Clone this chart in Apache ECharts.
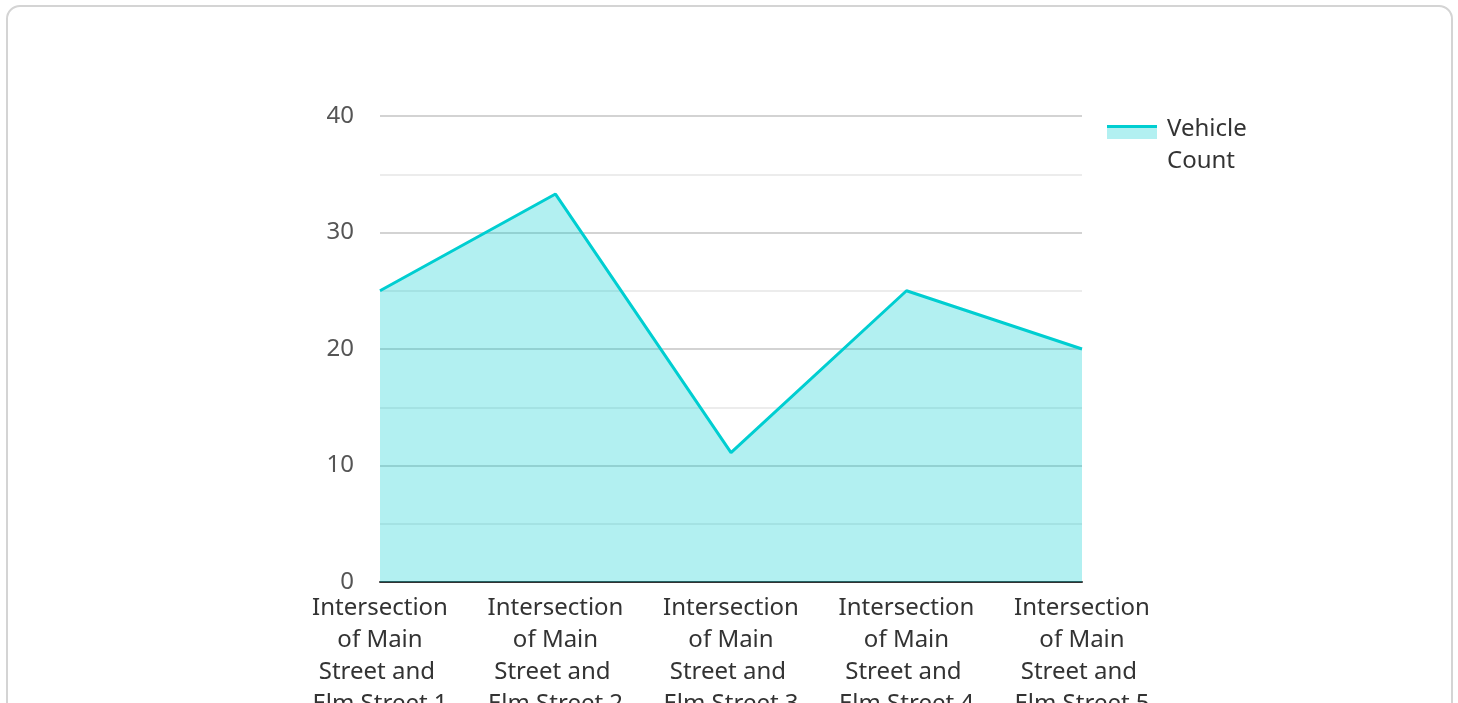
<!DOCTYPE html>
<html>
<head>
<meta charset="utf-8">
<script src="https://cdn.jsdelivr.net/npm/echarts@6/dist/echarts.min.js"></script>
<style>
    html, body { margin: 0; padding: 0; background: #fff; overflow: hidden; }
    .card {
        position: absolute; left: 6px; top: 5px; width: 1447px; height: 800px;
        border: 2px solid #d4d4d4; border-radius: 14px; box-sizing: border-box;
    }
    #chart { position: absolute; left: 0; top: 0; width: 1458px; height: 800px; }
</style>
</head>
<body>
<div class="card"></div>
<div id="chart"></div>
<script>
    var categories = [
        'Intersection of Main Street and Elm Street 1',
        'Intersection of Main Street and Elm Street 2',
        'Intersection of Main Street and Elm Street 3',
        'Intersection of Main Street and Elm Street 4',
        'Intersection of Main Street and Elm Street 5'
    ]
    var vehicleCount = [25, 33.3, 11.1, 25, 20]
    var seriesName = 'Vehicle Count'

    var lineColor = '#00CED1'
    var fillColor = '#b2f0f1'
    var font = '"Noto Sans", "Open Sans", sans-serif'
    var chart = echarts.init(document.getElementById('chart'), null, { renderer: 'canvas' })
    chart.setOption({
        animation: false,
        textStyle: { fontFamily: font },
        grid: { left: 380, right: 376, top: 116, height: 466, containLabel: false },
        legend: {
            data: [seriesName],
            left: 1107,
            top: 108,
            orient: 'vertical',
            icon: 'rect',
            itemWidth: 50,
            itemHeight: 14,
            itemGap: 10,
            itemStyle: { opacity: 0 },
            textStyle: {
                fontFamily: font, fontSize: 24, color: '#333',
                width: 100, overflow: 'break', lineHeight: 32
            }
        },
        // legend swatch: light area with the line on top, like the series
        graphic: [
            { type: 'rect', left: 1107, top: 125, shape: { width: 50, height: 14 }, style: { fill: fillColor }, silent: true },
            { type: 'rect', left: 1107, top: 125, shape: { width: 50, height: 3 }, style: { fill: lineColor }, silent: true }
        ],
        xAxis: {
            type: 'category',
            data: categories,
            boundaryGap: false,
            axisLine: { lineStyle: { color: '#333', width: 2 } },
            axisTick: { show: false },
            axisLabel: {
                interval: 0, fontFamily: font, fontSize: 24, color: '#333',
                width: 142, overflow: 'break', lineHeight: 32, margin: 10
            }
        },
        yAxis: {
            type: 'value',
            min: 0, max: 40, interval: 10,
            axisLine: { show: false },
            axisTick: { show: false },
            axisLabel: { fontFamily: font, fontSize: 24, color: '#555', margin: 26 },
            splitLine: { lineStyle: { color: '#c4c4c4', width: 1.5 } },
            minorTick: { show: false, splitNumber: 2 },
            minorSplitLine: { show: true, lineStyle: { color: '#e6e6e6', width: 1.5 } }
        },
        series: [{
            name: seriesName,
            type: 'line',
            data: vehicleCount,
            symbol: 'none',
            color: lineColor,
            lineStyle: { width: 3 },
            areaStyle: { color: lineColor, opacity: 0.3 }
        }]
    })
</script>
</body>
</html>
